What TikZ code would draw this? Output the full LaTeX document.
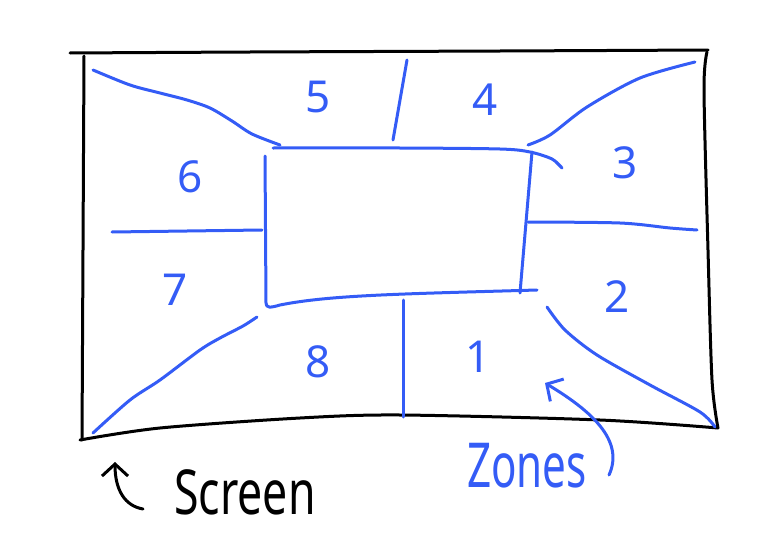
\documentclass[tikz,border=0pt]{standalone}
\usepackage{fontspec}
\setmainfont{Noto Sans}
\usepackage{tikz}
\usetikzlibrary{arrows.meta}
\definecolor{penblue}{RGB}{52,92,246}

\begin{document}
\begin{tikzpicture}[x=1pt, y=-1pt,
        penline/.style={line width=3pt, line cap=round, line join=round},
        screenline/.style={penline, black},
        zoneline/.style={penline, penblue},
        zonenum/.style={text=penblue, font=\fontsize{44}{44}\selectfont, inner sep=0pt},
        barb/.style={-{Straight Barb[length=12pt, width=26pt, line width=3pt]}}]
    \useasboundingbox (0,0) rectangle (761,554);
    % screen outline
    \draw[screenline] plot[smooth] coordinates {(70,53) (250,52) (500,51) (708,50)};
    \draw[screenline] plot[smooth] coordinates {(707,52) (704,90) (708,250) (712,380) (718,428)};
    \draw[screenline] plot[smooth] coordinates {(84,56) (83,250) (82,440)};
    \draw[screenline] plot[smooth] coordinates {(80,440) (160,428) (300,418) (400,415) (600,420) (718,428)};
    % inner box
    \draw[zoneline] plot[smooth] coordinates {(273,148) (400,148) (500,149) (530,152) (552,159) (562,168)} -- (556,162);
    \draw[zoneline] (265,156) -- (266,303) .. controls (266,308) and (270,308) .. (280,305)
        .. controls (330,295) and (400,294) .. (537,290);
    \draw[zoneline] (532,152) -- (520,293);
    % dividers
    \draw[zoneline] (407,60) -- (393,140);
    \draw[zoneline] (112,232) -- (262,230);
    \draw[zoneline] plot[smooth] coordinates {(528,222) (620,223) (670,228) (697,230)};
    \draw[zoneline] (403,300) -- (403,417);
    \draw[zoneline] plot[smooth] coordinates {(93,70) (130,85) (160,93) (187,100) (210,108) (232,121) (252,134) (280,145)};
    \draw[zoneline] plot[smooth] coordinates {(528,145) (550,135) (587,107) (640,78) (695,62)};
    \draw[zoneline] plot[smooth] coordinates {(257,317) (243,326) (220,338) (200,350) (160,380) (130,400) (93,433)};
    \draw[zoneline] plot[smooth] coordinates {(547,307) (565,330) (597,355) (650,385) (700,412) (715,427)};
    % zone numbers
    \foreach \num/\px/\py in {1/478/357, 2/617/297, 3/625/163, 4/485/100,
                              5/318/97, 6/190/177, 7/175/290, 8/318/362}
        \node[zonenum] (z\num) at (\px,\py) {\num};
    % captions
    \node[inner sep=0pt, font=\fontsize{62}{62}\selectfont] (screen) at (245,492) {\scalebox{0.72}[1]{Screen}};
    \node[inner sep=0pt, text=penblue, font=\fontsize{62}{62}\selectfont] (zones) at (527,466) {\scalebox{0.68}[1]{Zones}};
    \coordinate (screentip) at (115,462);
    \coordinate (zonestip) at (545,383);
    \draw[screenline, barb] (143,509) .. controls (125,506) and (115,490) .. (screentip);
    \draw[zoneline, barb] ([xshift=22pt, yshift=-9pt]zones.east) .. controls (625,440) and (590,410) .. (zonestip);
\end{tikzpicture}
\end{document}
